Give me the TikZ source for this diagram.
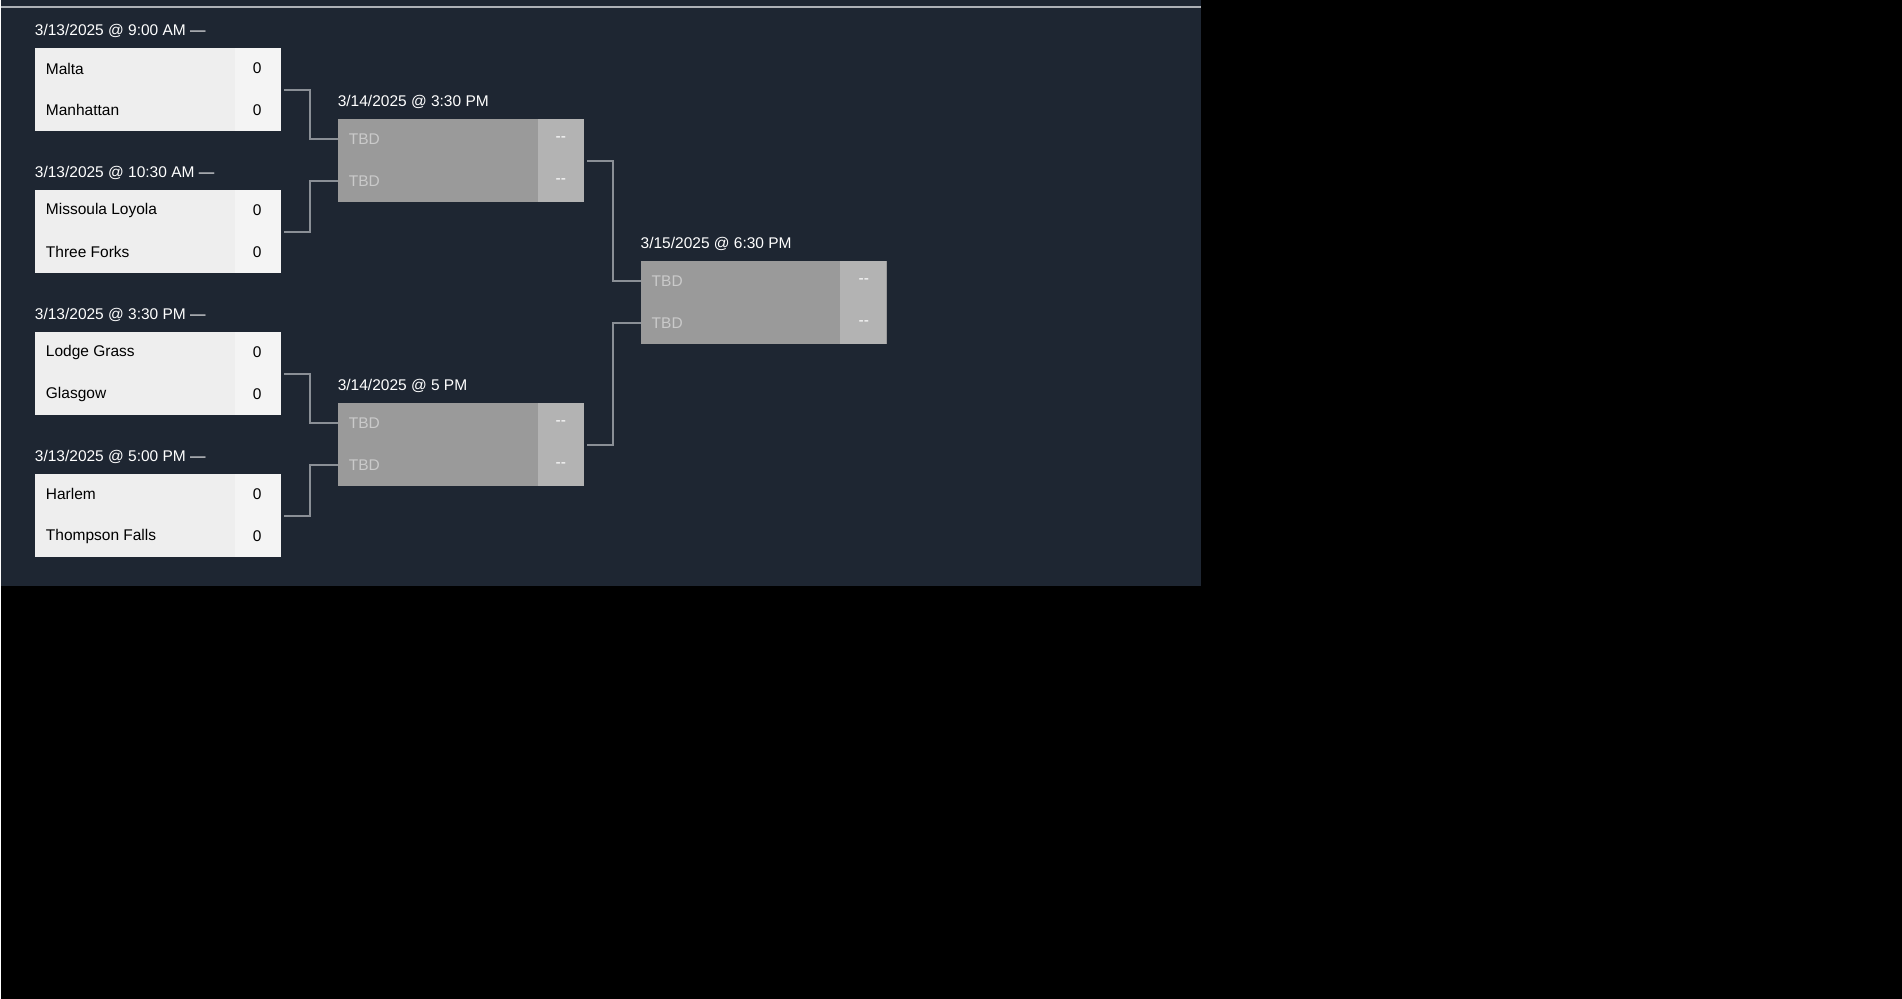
\documentclass[tikz,border=0pt]{standalone}
\usepackage{fontspec}
\setmainfont{Liberation Sans}
\definecolor{panel}{HTML}{1E2632}
\definecolor{lite}{HTML}{EEEEEE}
\definecolor{litesc}{HTML}{F4F4F4}
\definecolor{tbd}{HTML}{9A9A9A}
\definecolor{tbdsc}{HTML}{B3B3B3}
\definecolor{tbdtxt}{HTML}{CACACA}
\definecolor{conn}{HTML}{8A8F96}
\tikzset{x=1pt,y=-1pt,
 box/.style={draw=none,minimum width=246pt,minimum height=83pt,inner sep=0pt,anchor=north west},
 lab/.style={anchor=west,inner sep=0pt,text=white,font=\fontsize{15.5}{18}\selectfont},
 team/.style={anchor=west,inner sep=0pt,font=\fontsize{15.5}{18}\selectfont},
 wire/.style={draw=conn,line width=2pt}}
\newcommand{\mymatch}[8]{% name x y label t1 s1 t2 s2 ; light or tbd via style
}
\begin{document}
\begin{tikzpicture}
\fill[black] (0,0) rectangle (1902,999);
\fill[panel] (0,0) rectangle (1201,586);
\draw[conn!70,line width=1.5pt] (0,7) -- (1201,7);
% round 1
\foreach \n/\y/\lb/\ta/\tb in {a/48/3/13/2025 @ 9:00 AM —/Malta/Manhattan}{}
\newcommand{\lmatch}[5]{%
 \node[box,fill=lite] (#1) at (34,#2) {};
 \fill[litesc] (234,#2) rectangle (280,#2+83);
 \node[lab] (#1l) at (34,#2-17) {#3};
 \node[team] (#1t) at (45,#2+20.5) {#4};
 \node[team] (#1u) at (45,#2+62.5) {#5};
 \node[team] (#1s) at (252,#2+20.5) {0};
 \node[team] (#1v) at (252,#2+62.5) {0};}
\newcommand{\tmatch}[4]{%
 \node[box,fill=tbd] (#1) at (#2,#3) {};
 \fill[tbdsc] (#2+200,#3) rectangle (#2+246,#3+83);
 \node[lab] (#1l) at (#2,#3-17) {#4};
 \node[team,text=tbdtxt] (#1t) at (#2+11,#3+20.5) {TBD};
 \node[team,text=tbdtxt] (#1u) at (#2+11,#3+62.5) {TBD};
 \node[team,text=white] (#1s) at (#2+218,#3+20.5) {-{}-};
 \node[team,text=white] (#1v) at (#2+218,#3+62.5) {-{}-};}
\lmatch{a}{48}{3/13/2025 @ 9:00 AM —}{Malta}{Manhattan}
\lmatch{b}{190}{3/13/2025 @ 10:30 AM —}{Missoula Loyola}{Three Forks}
\lmatch{c}{332}{3/13/2025 @ 3:30 PM —}{Lodge Grass}{Glasgow}
\lmatch{d}{474}{3/13/2025 @ 5:00 PM —}{Harlem}{Thompson Falls}
\tmatch{e}{337}{119}{3/14/2025 @ 3:30 PM}
\tmatch{f}{337}{403}{3/14/2025 @ 5 PM}
\tmatch{g}{640}{261}{3/15/2025 @ 6:30 PM}
\coordinate (ca) at (309,0); \coordinate (cb) at (612,0);
\draw[wire] ([xshift=3pt]a.east) -| (ca |- e.north) coordinate (tmp) (ca |- et) |- ([yshift=0pt]e.west |- et);
\draw[wire] ([xshift=3pt]a.east) -| (ca |- et) -- (e.west |- et);
\draw[wire] ([xshift=3pt]b.east) -| (ca |- eu) -- (e.west |- eu);
\draw[wire] ([xshift=3pt]c.east) -| (ca |- ft) -- (f.west |- ft);
\draw[wire] ([xshift=3pt]d.east) -| (ca |- fu) -- (f.west |- fu);
\draw[wire] ([xshift=3pt]e.east) -| (cb |- gt) -- (g.west |- gt);
\draw[wire] ([xshift=3pt]f.east) -| (cb |- gu) -- (g.west |- gu);
\end{tikzpicture}
\end{document}
